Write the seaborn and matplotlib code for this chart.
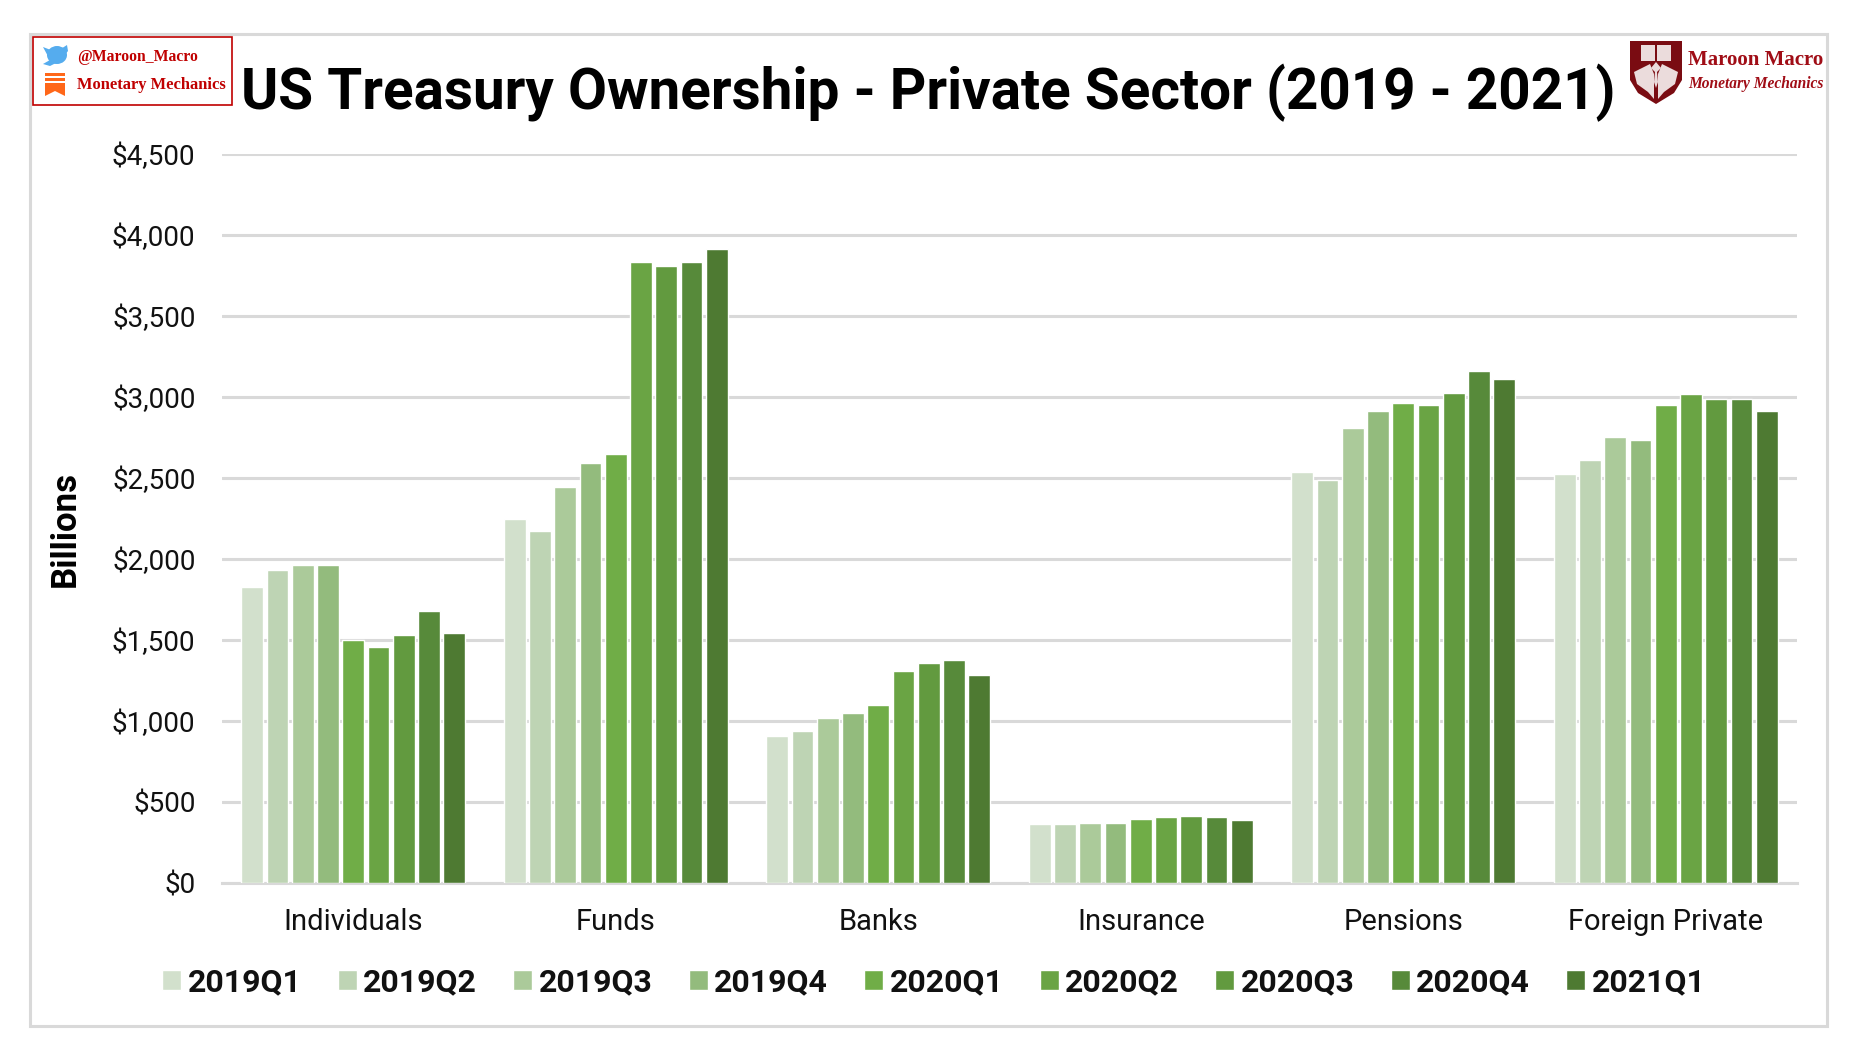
import matplotlib
matplotlib.use("Agg")
import matplotlib.pyplot as plt
from matplotlib.patches import Rectangle, Polygon, Ellipse
import pandas as pd
import seaborn as sns

# values, billions of dollars
sectors = ["Individuals", "Funds", "Banks", "Insurance", "Pensions", "Foreign Private"]
quarters = ["2019Q1", "2019Q2", "2019Q3", "2019Q4", "2020Q1", "2020Q2", "2020Q3", "2020Q4", "2021Q1"]
individuals = [1830, 1930, 1960, 1965, 1500, 1455, 1530, 1680, 1545]
funds = [2250, 2170, 2445, 2590, 2650, 3835, 3810, 3835, 3915]
banks = [910, 940, 1020, 1050, 1100, 1310, 1360, 1375, 1285]
insurance = [365, 365, 370, 370, 395, 405, 415, 405, 390]
pensions = [2540, 2490, 2810, 2915, 2965, 2950, 3025, 3160, 3110]
foreign_private = [2525, 2610, 2755, 2735, 2950, 3020, 2985, 2990, 2915]
colors = ["#D2E0CC", "#BED4B4", "#ABCA9A", "#93BB7D", "#70AD47", "#6AA444", "#629A3F", "#578A3A", "#4E7A32"]
yticks = [0, 500, 1000, 1500, 2000, 2500, 3000, 3500, 4000, 4500]

rows = []
for sector, vals in zip(sectors, [individuals, funds, banks, insurance, pensions, foreign_private]):
    for q, v in zip(quarters, vals):
        rows.append({"sector": sector, "quarter": q, "value": v})
df = pd.DataFrame(rows)

W, H = 1857, 1058
sns.set_theme(style="white")
plt.rcParams["font.family"] = ["Roboto", "DejaVu Sans"]

fig = plt.figure(figsize=(W / 100, H / 100), dpi=100)
ax = fig.add_axes([222 / W, 1 - 883 / H, (1797 - 222) / W, (883 - 154) / H])

sns.barplot(data=df, x="sector", y="value", hue="quarter", order=sectors, hue_order=quarters,
            palette=colors, width=0.865, gap=0.14, saturation=1, ax=ax, zorder=3)

ax.set_ylim(0, 4500)
ax.set_xlim(-0.5, 5.5)
ax.set_yticks(yticks)
ax.set_yticklabels([f"${v:,}" for v in yticks], fontsize=20, color="#111111")
ax.tick_params(axis="x", labelsize=21, labelcolor="#111111", length=0, pad=18)
ax.tick_params(axis="y", length=0, pad=19)
ax.yaxis.grid(True, color="#D9D9D9", lw=2.2, zorder=0)
ax.set_axisbelow(True)
for s in ["top", "right", "left"]:
    ax.spines[s].set_visible(False)
ax.spines["bottom"].set_color("#D9D9D9")
ax.spines["bottom"].set_linewidth(2.2)
ax.set_xlabel("")
ax.set_ylabel("")

leg = ax.legend(loc="center", bbox_to_anchor=(0.452, (883 - 982) / (883 - 154)), ncol=9, frameon=False,
                prop={"size": 23, "weight": "bold"}, handlelength=0.6, handleheight=0.6,
                handletextpad=0.2, columnspacing=1.13, borderpad=0)
for t in leg.get_texts():
    t.set_color("#111111")

# overlay in pixel coords for the frame, title and logos
ov = fig.add_axes([0, 0, 1, 1], zorder=5)
ov.set_xlim(0, W)
ov.set_ylim(H, 0)
ov.axis("off")
ov.patch.set_alpha(0)

ov.add_patch(Rectangle((30, 34), 1797, 992, fill=False, ec="#D9D9D9", lw=2.2))
ov.text(928, 93, "US Treasury Ownership - Private Sector (2019 - 2021)", fontsize=40.8, fontweight="bold",
        ha="center", va="center", color="black")
ov.text(65, 529, "Billions", fontsize=25, fontweight="bold", rotation=90, ha="center", va="center", color="black")

# twitter / newsletter box
ov.add_patch(Rectangle((33, 37), 199, 68, fc="white", ec="#C00000", lw=1.2))
ov.add_patch(Ellipse((57, 55), 20, 18, fc="#55ACEE", ec="none"))
ov.add_patch(Polygon([[43, 47], [56, 52], [67, 45], [68, 51], [60, 61], [50, 66], [43, 64], [50, 60]], fc="#55ACEE", ec="none"))
ov.add_patch(Rectangle((45, 73), 20, 2.5, fc="#FF6719", ec="none"))
ov.add_patch(Rectangle((45, 78), 20, 2.5, fc="#FF6719", ec="none"))
ov.add_patch(Polygon([[45, 83], [65, 83], [65, 96], [55, 91], [45, 96]], fc="#FF6719", ec="none"))
ov.text(77, 57, "@Maroon_Macro", fontsize=11.3, fontweight="bold", family="Liberation Serif", color="#C00000", va="center")
ov.text(77, 85, "Monetary Mechanics", fontsize=11.9, fontweight="bold", family="Liberation Serif", color="#C00000", va="center")

# shield logo
maroon = "#7A0C12"
pale = "#EBDCDC"
ov.add_patch(Polygon([[1630, 41], [1682, 41], [1682, 80], [1674, 93], [1656, 104], [1638, 93], [1630, 80]], fc=maroon, ec="none"))
ov.add_patch(Rectangle((1641, 45), 14, 16, fc=pale, ec="none"))
ov.add_patch(Rectangle((1657, 45), 14, 16, fc=pale, ec="none"))
ov.add_patch(Polygon([[1654, 74], [1650, 64], [1634, 72], [1637, 84], [1648, 92], [1654, 99]], fc=pale, ec="none"))
ov.add_patch(Polygon([[1658, 74], [1662, 64], [1678, 72], [1675, 84], [1664, 92], [1658, 99]], fc=pale, ec="none"))
ov.add_patch(Polygon([[1656, 62], [1651, 68], [1655, 72], [1654, 82], [1656, 88], [1658, 82], [1657, 72], [1661, 68]], fc=pale, ec="none"))
ov.text(1688, 60, "Maroon Macro", fontsize=15, fontweight="bold", family="Liberation Serif", color="#A00D16", va="center")
ov.text(1688, 84, "Monetary Mechanics", fontsize=11.2, fontstyle="italic", fontweight="bold", family="Liberation Serif", color="#A00D16", va="center")

fig.savefig("out.png", dpi=100, facecolor="white")
